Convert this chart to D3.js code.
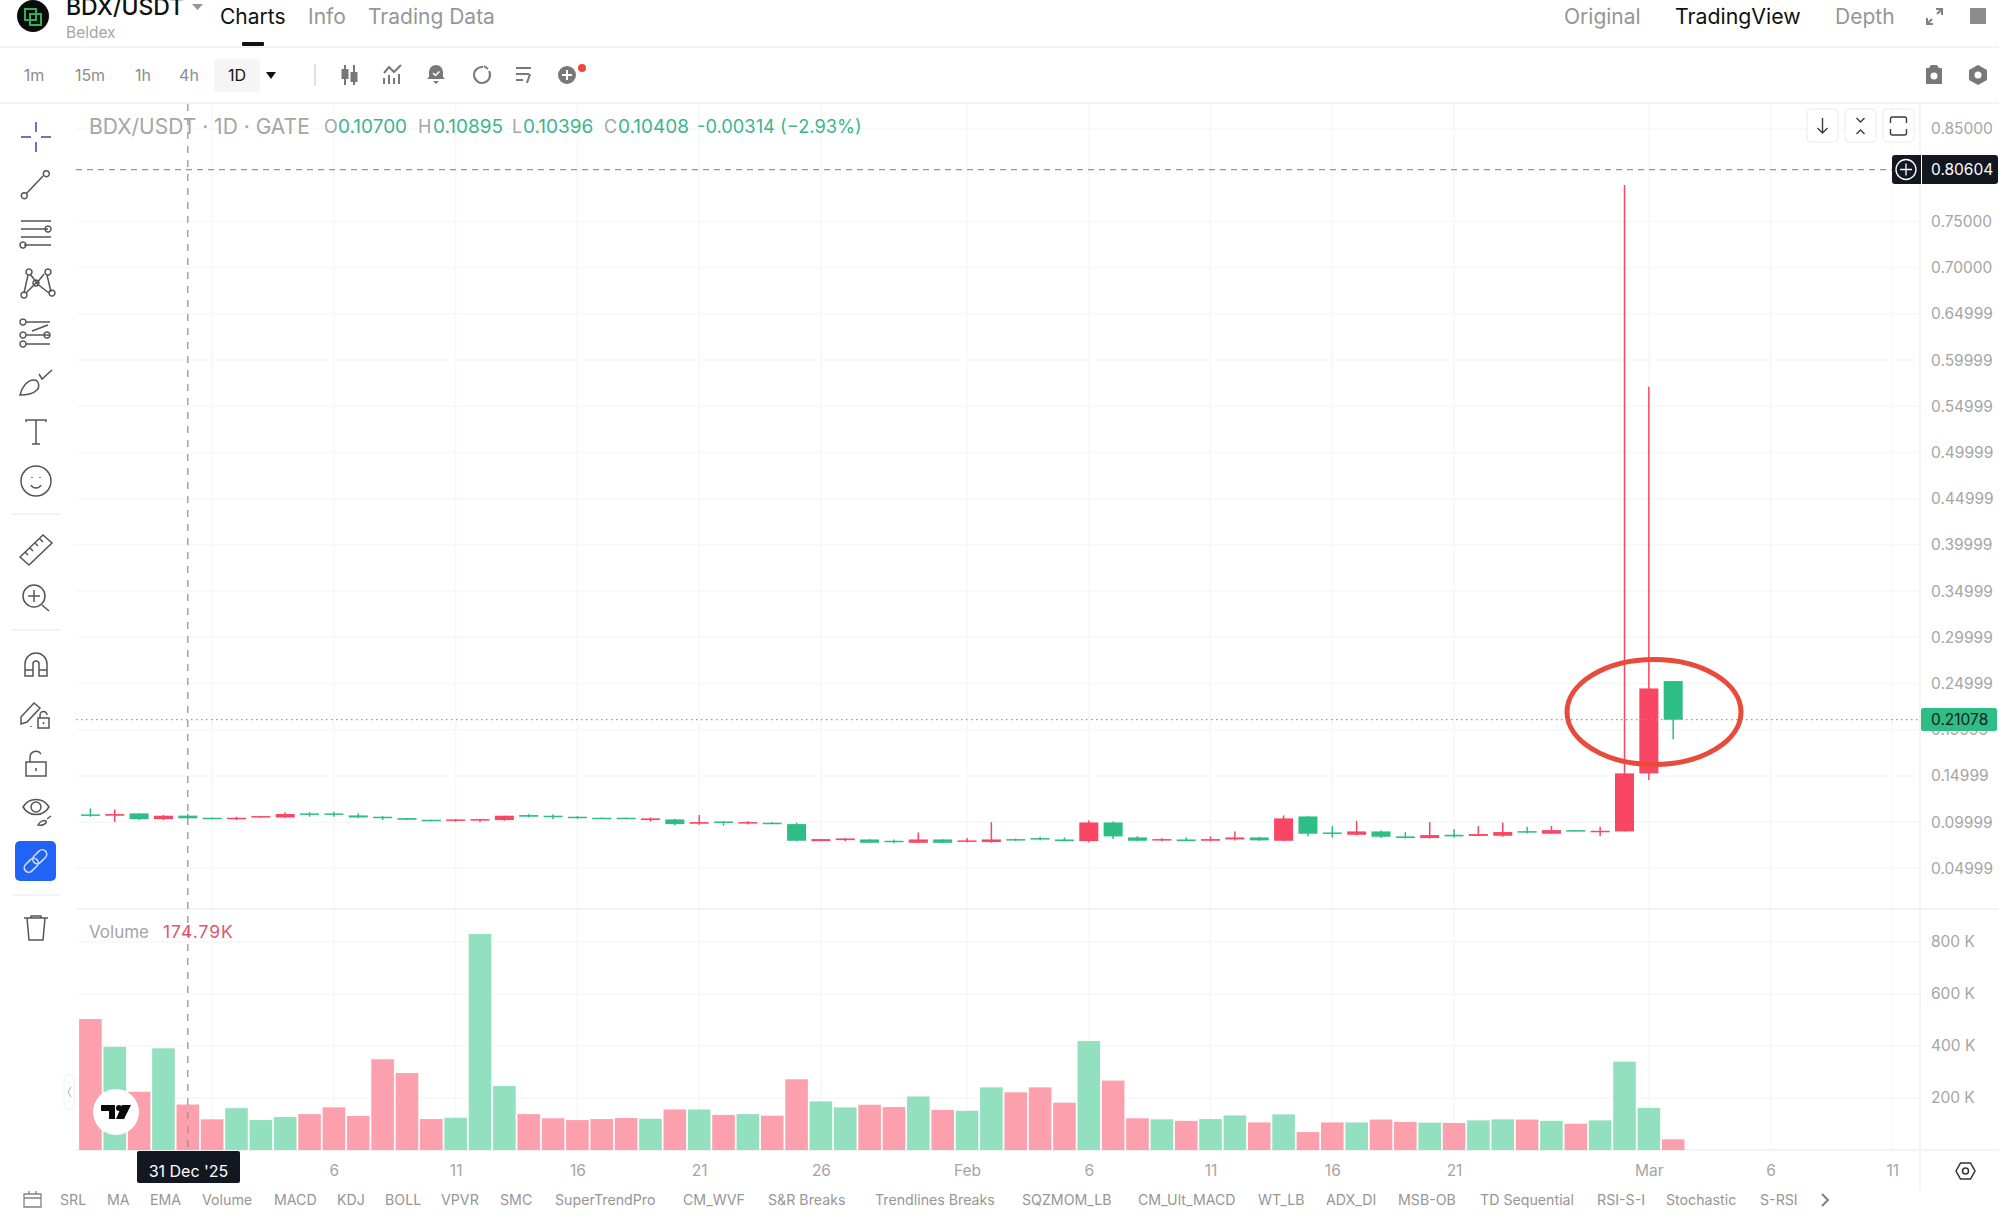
<!doctype html>
<html lang='en'>
<head>
    <meta charset='UTF-8'>
    <title>BDX/USDT</title>
    <style>
        html, body {
            margin: 0;
            background: #fff;
        }

        svg {
            display: block;
        }

        text {
            font-family: Inter, 'Noto Sans', sans-serif;
        }

        .domain {
            display: none;
        }

        .axis text {
            fill: rgb(165, 165, 165);
            font-size: 15.5px;
        }

        .icon {
            fill: none;
            stroke: rgb(85, 85, 85);
            stroke-width: 1.5;
        }
    </style>
</head>
<body>

<script src='https://d3js.org/d3.v7.min.js'></script>
<script>
  const opens = [
    0.1083, 0.1069, 0.1094, 0.1032, 0.10700, 0.1047, 0.1036, 0.1050, 0.1050, 0.1094, 0.1094,
    0.1072, 0.1058, 0.1043, 0.1025, 0.1014, 0.1022, 0.1022, 0.1076, 0.1069, 0.1058, 0.1047,
    0.1047, 0.1022, 0.1029, 0.0982, 0.1007, 0.0986, 0.0993, 0.0978, 0.0794, 0.0805, 0.0812,
    0.0798, 0.0776, 0.0812, 0.0787, 0.0784, 0.0816, 0.0827, 0.0812, 0.0794, 0.0996, 0.0834,
    0.0805, 0.0812, 0.0798, 0.0812, 0.0834, 0.0798, 0.1061, 0.0888, 0.0863, 0.0899, 0.0845,
    0.0827, 0.0863, 0.0850, 0.0852, 0.0902, 0.0874, 0.0913, 0.0899, 0.0899, 0.1527, 0.2526
  ]
  const highs = [
    0.1148, 0.1137, 0.1094, 0.1076, 0.10895, 0.1047, 0.1058, 0.1065, 0.1105, 0.1108, 0.1112,
    0.1094, 0.1065, 0.1043, 0.1025, 0.1032, 0.1036, 0.1069, 0.1087, 0.1083, 0.1065, 0.1050,
    0.1050, 0.1050, 0.1036, 0.1076, 0.1011, 0.1011, 0.1000, 0.0993, 0.0816, 0.0827, 0.0816,
    0.0812, 0.0888, 0.0816, 0.0827, 0.1000, 0.0823, 0.0841, 0.0834, 0.1018, 0.1007, 0.0848,
    0.0827, 0.0834, 0.0845, 0.0899, 0.0841, 0.1072, 0.1065, 0.0957, 0.1011, 0.0910, 0.0892,
    0.1000, 0.0924, 0.0957, 0.0996, 0.0949, 0.0957, 0.0913, 0.0949, 0.7894, 0.5711, 0.2526
  ]
  const lows = [
    0.1058, 0.1000, 0.1022, 0.1022, 0.10396, 0.1029, 0.1022, 0.1050, 0.1043, 0.1058, 0.1058,
    0.1043, 0.1022, 0.1022, 0.1007, 0.1004, 0.1000, 0.1014, 0.1050, 0.1032, 0.1036, 0.1032,
    0.1032, 0.1007, 0.0964, 0.0971, 0.0960, 0.0975, 0.0978, 0.0791, 0.0794, 0.0791, 0.0773,
    0.0773, 0.0773, 0.0773, 0.0780, 0.0776, 0.0794, 0.0802, 0.0791, 0.0780, 0.0816, 0.0791,
    0.0794, 0.0791, 0.0791, 0.0802, 0.0798, 0.0794, 0.0845, 0.0834, 0.0856, 0.0827, 0.0823,
    0.0823, 0.0834, 0.0850, 0.0841, 0.0877, 0.0874, 0.0899, 0.0848, 0.0899, 0.1454, 0.1895
  ]
  const closes = [
    0.1072, 0.1087, 0.1032, 0.1069, 0.10408, 0.1036, 0.1047, 0.1065, 0.1087, 0.1079, 0.1083,
    0.1050, 0.1047, 0.1025, 0.1011, 0.1029, 0.1032, 0.1069, 0.1058, 0.1054, 0.1050, 0.1036,
    0.1036, 0.1040, 0.0978, 0.1000, 0.0996, 0.1000, 0.0982, 0.0798, 0.0816, 0.0823, 0.0776,
    0.0787, 0.0812, 0.0776, 0.0802, 0.0812, 0.0805, 0.0812, 0.0794, 0.0996, 0.0845, 0.0798,
    0.0816, 0.0794, 0.0816, 0.0834, 0.0802, 0.1040, 0.0874, 0.0874, 0.0899, 0.0841, 0.0827,
    0.0859, 0.0845, 0.0870, 0.0892, 0.0888, 0.0913, 0.0899, 0.0906, 0.1527, 0.2446, 0.21078
  ]

  const volumes = [
    504, 397, 224, 391, 174.79, 118, 161, 115, 127, 138, 164, 131, 349, 296, 119, 124, 831,
    246, 138, 122, 115, 119, 123, 120, 156, 156, 135, 138, 132, 272, 187, 164, 174, 165, 206,
    154, 151, 241, 222, 241, 182, 419, 267, 122, 118, 112, 119, 133, 106, 137, 69, 106, 106,
    117, 108, 105, 104, 114, 118, 117, 112, 101, 114, 340, 162, 41
  ]
  const volumeSides = [
    'r', 'g', 'r', 'g', 'r', 'r', 'g', 'g', 'g', 'r', 'r', 'r', 'r', 'r', 'r', 'g', 'g',
    'g', 'r', 'r', 'r', 'r', 'r', 'g', 'r', 'g', 'r', 'g', 'r', 'r', 'g', 'g', 'r', 'r', 'g',
    'r', 'g', 'g', 'r', 'r', 'r', 'g', 'r', 'r', 'g', 'r', 'g', 'g', 'r', 'g', 'r', 'r', 'g',
    'r', 'r', 'g', 'r', 'g', 'g', 'r', 'g', 'r', 'g', 'g', 'g', 'r'
  ]

  const priceTicks = [0.85, 0.75, 0.7, 0.64999, 0.59999, 0.54999, 0.49999, 0.44999, 0.39999,
    0.34999, 0.29999, 0.24999, 0.19999, 0.14999, 0.09999, 0.04999]
  const volumeTicks = [200, 400, 600, 800]
  const dateTicks = [5, 10, 15, 20, 25, 30, 36, 41, 46, 51, 56, 64, 69, 74]
  const dateLabels = ['', '6', '11', '16', '21', '26', 'Feb', '6', '11', '16', '21', 'Mar', '6', '11']
  const crosshairPrice = 0.80604
  const lastPrice = 0.21078
  const crosshairIndex = 4
  const indicators = ['SRL', 'MA', 'EMA', 'Volume', 'MACD', 'KDJ', 'BOLL', 'VPVR', 'SMC', 'SuperTrendPro',
    'CM_WVF', 'S&R Breaks', 'Trendlines Breaks', 'SQZMOM_LB', 'CM_Ult_MACD', 'WT_LB', 'ADX_DI', 'MSB-OB',
    'TD Sequential', 'RSI-S-I', 'Stochastic', 'S-RSI']
  const indicatorX = [60, 107, 150, 202, 274, 337, 385, 441, 500, 555, 683, 768, 875, 1022, 1138,
    1258, 1326, 1398, 1480, 1597, 1666, 1760]
  const intervals = ['1m', '15m', '1h', '4h', '1D']
  const intervalX = [34, 90, 143, 189, 237]

  const green = 'rgb(46, 189, 133)'
  const red = 'rgb(249, 70, 98)'
  const greenVol = 'rgb(146, 224, 191)'
  const redVol = 'rgb(253, 160, 173)'
  const gridColor = 'rgb(247, 247, 247)'
  const lineColor = 'rgb(243, 243, 243)'

  const left = 76, right = 1920, paneTop = 104, paneSplit = 909, volBase = 1150

  const svg = d3.select('body').append('svg')
    .attr('width', 1999)
    .attr('height', 1216)

  const xScale = d3.scaleLinear().domain([0, 65]).range([90.4, 1673.2])
  const yScale = d3.scaleLinear().domain([0.85, 0.04999]).range([129, 868.3])
  const volScale = d3.scaleLinear().domain([0, 800]).range([volBase, 942])

  //// grid ////
  const grid = svg.append('g').attr('stroke', gridColor).attr('stroke-width', 1.5)
  grid.selectAll('line.v').data(dateTicks).enter().append('line')
    .attr('x1', d => xScale(d)).attr('x2', d => xScale(d))
    .attr('y1', paneTop).attr('y2', volBase)
  grid.selectAll('line.h').data(priceTicks).enter().append('line')
    .attr('x1', left).attr('x2', right)
    .attr('y1', d => yScale(d)).attr('y2', d => yScale(d))
  grid.selectAll('line.vol').data(volumeTicks).enter().append('line')
    .attr('x1', left).attr('x2', right)
    .attr('y1', d => volScale(d)).attr('y2', d => volScale(d))

  svg.append('g').attr('stroke', lineColor).attr('stroke-width', 2)
    .selectAll('line')
    .data([[0, 47, 1999, 47], [0, 103, 1999, 103], [left, paneSplit, 1999, paneSplit], [left, volBase, 1999, volBase],
      [right, paneTop, right, 1190]])
    .enter().append('line')
    .attr('x1', d => d[0]).attr('y1', d => d[1]).attr('x2', d => d[2]).attr('y2', d => d[3])

  //// axes ////
  svg.append('g').attr('class', 'axis')
    .attr('transform', `translate(${right}, 0)`)
    .call(d3.axisRight(yScale)
      .tickValues(priceTicks)
      .tickFormat(d => d.toFixed(5))
      .tickSize(0)
      .tickPadding(11))

  svg.append('g').attr('class', 'axis')
    .attr('transform', `translate(${right}, 0)`)
    .call(d3.axisRight(volScale)
      .tickValues(volumeTicks)
      .tickFormat(d => d + ' K')
      .tickSize(0)
      .tickPadding(11))

  svg.append('g').attr('class', 'axis')
    .attr('transform', `translate(0, ${volBase})`)
    .call(d3.axisBottom(xScale)
      .tickValues(dateTicks)
      .tickFormat((d, i) => dateLabels[i])
      .tickSize(0)
      .tickPadding(15))

  //// volume ////
  svg.append('g').selectAll('rect')
    .data(volumes)
    .enter().append('rect')
    .attr('x', (d, i) => xScale(i) - 11.3)
    .attr('width', 22.6)
    .attr('y', d => volScale(d))
    .attr('height', d => volBase - volScale(d))
    .attr('fill', (d, i) => volumeSides[i] === 'g' ? greenVol : redVol)

  //// candles ////
  const candles = svg.append('g').selectAll('g')
    .data(opens)
    .enter().append('g')
    .attr('fill', (d, i) => closes[i] < d ? green : red)

  candles.append('rect')
    .attr('x', (d, i) => xScale(i) - 0.75)
    .attr('width', 1.5)
    .attr('y', (d, i) => yScale(highs[i]))
    .attr('height', (d, i) => yScale(lows[i]) - yScale(highs[i]))

  candles.append('rect')
    .attr('x', (d, i) => xScale(i) - 9.5)
    .attr('width', 19)
    .attr('y', (d, i) => yScale(Math.max(d, closes[i])))
    .attr('height', (d, i) => Math.max(1.5, Math.abs(yScale(d) - yScale(closes[i]))))

  //// crosshair + last price ////
  svg.append('line')
    .attr('x1', left).attr('x2', 1892)
    .attr('y1', yScale(crosshairPrice)).attr('y2', yScale(crosshairPrice))
    .attr('stroke', 'rgb(150, 150, 150)').attr('stroke-width', 1.3).attr('stroke-dasharray', '6 5')

  svg.append('line')
    .attr('x1', xScale(crosshairIndex)).attr('x2', xScale(crosshairIndex))
    .attr('y1', paneTop).attr('y2', volBase)
    .attr('stroke', 'rgb(150, 150, 150)').attr('stroke-width', 1.3).attr('stroke-dasharray', '7 7')

  svg.append('line')
    .attr('x1', left).attr('x2', right)
    .attr('y1', yScale(lastPrice)).attr('y2', yScale(lastPrice))
    .attr('stroke', 'rgb(125, 165, 160)').attr('stroke-width', 1.2).attr('stroke-dasharray', '1.5 3.5')

  // hand drawn ring around the last candles
  svg.append('ellipse')
    .attr('cx', 1654).attr('cy', 712).attr('rx', 87).attr('ry', 52.5)
    .attr('fill', 'none').attr('stroke', 'rgb(232, 74, 60)').attr('stroke-width', 5)

  //// price + date labels ////
  svg.append('rect').attr('x', 1921).attr('y', 708).attr('width', 76).attr('height', 23).attr('rx', 2).attr('fill', green)
  svg.append('text').attr('x', 1931).attr('y', yScale(lastPrice) + 5.5)
    .attr('font-size', 15.5).attr('fill', 'rgb(20, 30, 30)').text(lastPrice.toFixed(5))

  svg.append('rect').attr('x', 1892).attr('y', 155).attr('width', 106).attr('height', 29).attr('rx', 3).attr('fill', 'rgb(19, 23, 34)')
  svg.append('line').attr('x1', 1921.5).attr('x2', 1921.5).attr('y1', 155).attr('y2', 184).attr('stroke', '#fff')
  svg.append('circle').attr('cx', 1906).attr('cy', 169.5).attr('r', 10).attr('fill', 'none').attr('stroke', '#fff').attr('stroke-width', 1.3)
  svg.append('path').attr('d', 'M1900 169.5h12M1906 163.5v12').attr('stroke', '#fff').attr('stroke-width', 1.3)
  svg.append('text').attr('x', 1931).attr('y', 175).attr('font-size', 15.5).attr('fill', '#fff').text(crosshairPrice.toFixed(5))

  svg.append('rect').attr('x', 137).attr('y', 1151).attr('width', 103).attr('height', 32).attr('rx', 2).attr('fill', 'rgb(19, 23, 34)')
  svg.append('text').attr('x', 188.5).attr('y', 1176.5).attr('text-anchor', 'middle')
    .attr('font-size', 16).attr('fill', '#fff').text("31 Dec '25")

  //// chart legends ////
  const label = (x, y, s, size, fill, extra) => {
    const t = svg.append('text').attr('x', x).attr('y', y).attr('font-size', size).attr('fill', fill).text(s)
    if (extra) t.attr('font-weight', extra)
    return t
  }

  label(89, 134, 'BDX/USDT · 1D · GATE', 21, 'rgb(165, 165, 165)')
  const ohlcLabels = ['O', 'H', 'L', 'C']
  const ohlcLabelX = [324, 418, 512, 604]
  const ohlcValueX = [338, 433, 523, 618]
  const ohlcValues = [opens[crosshairIndex], highs[crosshairIndex], lows[crosshairIndex], closes[crosshairIndex]]
  ohlcLabels.forEach((s, i) => {
    label(ohlcLabelX[i], 133, s, 18, 'rgb(165, 165, 165)')
    label(ohlcValueX[i], 133, ohlcValues[i].toFixed(5), 19, 'rgb(60, 181, 142)')
  })
  label(697, 133, '-0.00314 (−2.93%)', 18.3, 'rgb(60, 181, 142)')

  label(89, 938, 'Volume', 17, 'rgb(165, 165, 165)')
  label(163, 938, volumes[crosshairIndex] + 'K', 17.5, 'rgb(226, 86, 112)').attr('letter-spacing', 1)

  //// header ////
  svg.append('circle').attr('cx', 33).attr('cy', 16).attr('r', 16).attr('fill', 'rgb(8, 12, 10)')
  svg.append('path').attr('d', 'M25 9h11v11h-11zM30 14h11v11h-11z').attr('fill', 'none').attr('stroke', 'rgb(50, 175, 90)').attr('stroke-width', 2)
  label(66, 15, 'BDX/USDT', 23, 'rgb(17, 17, 17)', 500)
  svg.append('path').attr('d', 'M192 4h11l-5.5 6z').attr('fill', 'rgb(150, 150, 150)')
  label(66, 38, 'Beldex', 15.5, 'rgb(165, 165, 165)')
  label(220, 24, 'Charts', 21, 'rgb(17, 17, 17)')
  label(308, 24, 'Info', 21, 'rgb(150, 150, 150)')
  label(368, 24, 'Trading Data', 21, 'rgb(150, 150, 150)')
  svg.append('rect').attr('x', 242).attr('y', 42).attr('width', 22).attr('height', 4).attr('rx', 1).attr('fill', 'rgb(17, 17, 17)')

  label(1564, 24, 'Original', 21, 'rgb(150, 150, 150)')
  label(1675, 24, 'TradingView', 21.3, 'rgb(17, 17, 17)')
  label(1835, 24, 'Depth', 21, 'rgb(150, 150, 150)')
  svg.append('path').attr('d', 'M1927 24l5 -5M1937 14l5 -5M1936 9h6v6M1927 18v6h6').attr('fill', 'none').attr('stroke', 'rgb(130, 130, 130)').attr('stroke-width', 2)
  svg.append('rect').attr('x', 1970).attr('y', 8).attr('width', 16).attr('height', 16).attr('fill', 'rgb(140, 140, 140)')

  svg.append('rect').attr('x', 214).attr('y', 59).attr('width', 46).attr('height', 33).attr('rx', 4).attr('fill', 'rgb(245, 245, 245)')
  intervals.forEach((s, i) => {
    label(intervalX[i], 80.5, s, 16, i === 4 ? 'rgb(17, 17, 17)' : 'rgb(140, 140, 140)').attr('text-anchor', 'middle')
  })
  svg.append('path').attr('d', 'M266 72h10l-5 7z').attr('fill', 'rgb(17, 17, 17)')
  svg.append('line').attr('x1', 315).attr('x2', 315).attr('y1', 64).attr('y2', 86).attr('stroke', 'rgb(215, 215, 215)').attr('stroke-width', 1.5)

  // top toolbar icons, centred on (0,0)
  const topIcons = [
    [349, 'M-4 -10v20M5 -10v20', 'M-7.5 -6h7v10h-7zM1.5 -3h7v10h-7z'],
    [393, 'M-9 9v-6M-4 9v-9M1 9v-6M6 9v-10M-9 -2l5 -6l5 5l7 -7', ''],
    [480, 'M3 -8a8 8 0 1 0 6 4M4 -9l4 3', ''],
    [524, 'M-8 -7h15M-8 -1h13M-8 5h7M6 -1l-3 9', ''],
    [1934, 'M0 0', 'M-8 -7h3l2 -3h6l2 3h3v16h-16z']
  ]
  topIcons.forEach(d => {
    const g = svg.append('g').attr('transform', `translate(${d[0]}, 75)`)
    g.append('path').attr('d', d[1]).attr('fill', 'none').attr('stroke', 'rgb(120, 120, 120)').attr('stroke-width', 2)
    if (d[2]) g.append('path').attr('d', d[2]).attr('fill', 'rgb(120, 120, 120)')
  })
  // alert bell
  svg.append('path').attr('d', 'M436 65a7 7 0 0 1 7 7v5l2 2h-18l2 -2v-5a7 7 0 0 1 7 -7zM433 81h6l-3 3z').attr('fill', 'rgb(120, 120, 120)')
  svg.append('path').attr('d', 'M433 73l2.500 2.500l4 -4').attr('fill', 'none').attr('stroke', '#fff').attr('stroke-width', 1.5)
  svg.append('circle').attr('cx', 1934).attr('cy', 76).attr('r', 3.5).attr('fill', '#fff')
  svg.append('circle').attr('cx', 567).attr('cy', 75).attr('r', 9).attr('fill', 'rgb(120, 120, 120)')
  svg.append('path').attr('d', 'M562 75h10M567 70v10').attr('stroke', '#fff').attr('stroke-width', 2)
  svg.append('circle').attr('cx', 582).attr('cy', 68).attr('r', 4).attr('fill', 'rgb(240, 70, 60)')
  svg.append('path').attr('d', 'M1978 65l9 5v10l-9 5l-9 -5v-10z').attr('fill', 'rgb(120, 120, 120)')
  svg.append('circle').attr('cx', 1978).attr('cy', 75).attr('r', 3.5).attr('fill', '#fff')

  // chart buttons
  const buttonX = [1807, 1845, 1883]
  const buttonPaths = ['M0 -8v15M-5 2l5 5l5 -5', 'M-4 -8l4 4l4 -4M-4 8l4 -4l4 4', 'M-8 -3v-4a2 2 0 0 1 2 -2h12a2 2 0 0 1 2 2v4M-8 3v4a2 2 0 0 0 2 2h12a2 2 0 0 0 2 -2v-4']
  buttonX.forEach((x, i) => {
    svg.append('rect').attr('x', x).attr('y', 109).attr('width', 31).attr('height', 33).attr('rx', 4)
      .attr('fill', '#fff').attr('stroke', 'rgb(235, 235, 235)')
    svg.append('path').attr('transform', `translate(${x + 15.5}, 126)`).attr('d', buttonPaths[i])
      .attr('fill', 'none').attr('stroke', 'rgb(60, 60, 60)').attr('stroke-width', 1.4)
  })

  //// left toolbar, icons centred on (0,0) ////
  const toolIcons = [
    [137, 'M0 -15v10M0 5v10M-15 0h10M5 0h10', 'rgb(60, 70, 170)'],
    [185, 'M-10 9l17 -18M-9 12a3 3 0 1 1 -4 -4a3 3 0 0 1 4 4zM13 -10a3 3 0 1 1 -4 -4a3 3 0 0 1 4 4z'],
    [233, 'M-15 -12h30M-15 -4h27M-15 4h30M-12 12h27M15 -4a3 3 0 1 0 0 .1M-10 12a3 3 0 1 0 0 .1'],
    [283, 'M-12 10l4 -18M-6 -9l7 9l7 -9M11 -8l4 17M-10 10l10 -10l13 10M-4 -11a3 3 0 1 0 0 .1M-9 12a3 3 0 1 0 0 .1M15 -11a3 3 0 1 0 0 .1M19 10a3 3 0 1 0 0 .1M3 0a3 3 0 1 0 0 .1'],
    [334, 'M-10 -12h24M-10 1h24M-10 10h24M-4 -3l16 -6M-10 -12a3 3 0 1 0 0 .1M-10 1a3 3 0 1 0 0 .1M-10 10a3 3 0 1 0 0 .1M14 1a3 3 0 1 0 0 .1'],
    [383, 'M-16 12c2 -8 7 -15 14 -15c5 0 6 7 3 10c-3 3 -10 5 -17 5zM3 -9l3 5l10 -9'],
    [432, 'M-10 -10v-2h20v2M0 -12v24M-4 12h8'],
    [481, 'M15 0a15 15 0 1 1 -30 0a15 15 0 1 1 30 0M-5 4c2 4 8 4 10 0M-4 -4v1M4 -4v1'],
    [548, 'M-16 9l23 -22l9 8l-23 22zM-11 4l3 3M-6 0l3 3M-1 -5l3 3M4 -9l3 3'],
    [596, 'M9 0a11 11 0 1 1 -22 0a11 11 0 1 1 22 0M-8 0h12M-2 -6v12M6 9l7 6'],
    [664, 'M-11 12v-12a11 11 0 0 1 22 0v12h-8v-12a3 3 0 0 0 -6 0v12zM-11 6h8M3 6h8'],
    [711, 'M-15 13v-7l13 -14l6 5l-13 14zM-5 15v1M2 7h11v10h-11zM4 7v-3a3.5 3.5 0 0 1 7 0M7.5 11v2'],
    [765, 'M-10 -3h20v14h-20zM-6 -3v-5a6 6 0 0 1 11 -3M0 3v3'],
    [810, 'M-13 -3c6 -10 20 -10 26 0c-6 10 -20 10 -26 0zM5 -3a5 5 0 1 1 -10 0a5 5 0 1 1 10 0M2 15c2 -4 6 -5 8 -4c1 3 -4 5 -8 4zM11 9l4 -3'],
    [928, 'M-12 -10h24M-5 -10v-2h10v2M-9 -10l2 22h14l2 -22']
  ]
  toolIcons.forEach(d => {
    svg.append('path').attr('class', 'icon').attr('transform', `translate(36, ${d[0]})`).attr('d', d[1])
      .style('stroke', d[2] || null)
  })
  svg.append('g').attr('stroke', lineColor).attr('stroke-width', 2).selectAll('line')
    .data([514, 630, 895]).enter().append('line')
    .attr('x1', 12).attr('x2', 60).attr('y1', d => d).attr('y2', d => d)

  svg.append('rect').attr('x', 15).attr('y', 841).attr('width', 41).attr('height', 40).attr('rx', 5).attr('fill', 'rgb(33, 99, 245)')
  // link icon: two pills on the diagonal
  svg.append('g').attr('transform', 'translate(35.5, 861) rotate(-45)')
    .selectAll('rect').data([-6, 6]).enter().append('rect')
    .attr('x', d => d - 8).attr('y', -4.5).attr('width', 16).attr('height', 9).attr('rx', 4.5)
    .attr('fill', 'none').attr('stroke', 'rgb(205, 222, 255)').attr('stroke-width', 1.6)

  //// TradingView badge ////
  svg.append('rect').attr('x', 64).attr('y', 1074).attr('width', 10).attr('height', 36).attr('rx', 5).attr('fill', '#fff').attr('stroke', 'rgb(240, 240, 240)')
  svg.append('path').attr('d', 'M71 1087l-3 5l3 5').attr('fill', 'none').attr('stroke', 'rgb(190, 190, 190)').attr('stroke-width', 1.2)
  svg.append('circle').attr('cx', 116).attr('cy', 1112).attr('r', 23).attr('fill', '#fff')
  svg.append('path').attr('d', 'M101 1105h14v14h-6v-8h-8zM122 1105h9l-7 14h-8z').attr('fill', 'rgb(10, 10, 10)')
  svg.append('circle').attr('cx', 119).attr('cy', 1108).attr('r', 3).attr('fill', 'rgb(10, 10, 10)')

  //// bottom row ////
  indicators.forEach((s, i) => label(indicatorX[i], 1205, s, 14.2, 'rgb(150, 150, 150)'))
  svg.append('path').attr('d', 'M24 1194h17v13h-17zM24 1198h17M29 1191v3M36 1191v3').attr('fill', 'none').attr('stroke', 'rgb(130, 130, 130)').attr('stroke-width', 1.3)
  svg.append('path').attr('d', 'M1822 1194l6 6l-6 6').attr('fill', 'none').attr('stroke', 'rgb(120, 120, 120)').attr('stroke-width', 1.8)
  svg.append('path').attr('d', 'M1956 1171l4.5 -8h10l4.5 8l-4.5 8h-10z').attr('fill', 'none').attr('stroke', 'rgb(50, 50, 50)').attr('stroke-width', 1.5)
  svg.append('circle').attr('cx', 1965.5).attr('cy', 1171).attr('r', 3).attr('fill', 'none').attr('stroke', 'rgb(50, 50, 50)').attr('stroke-width', 1.5)
</script>
</body>
</html>
